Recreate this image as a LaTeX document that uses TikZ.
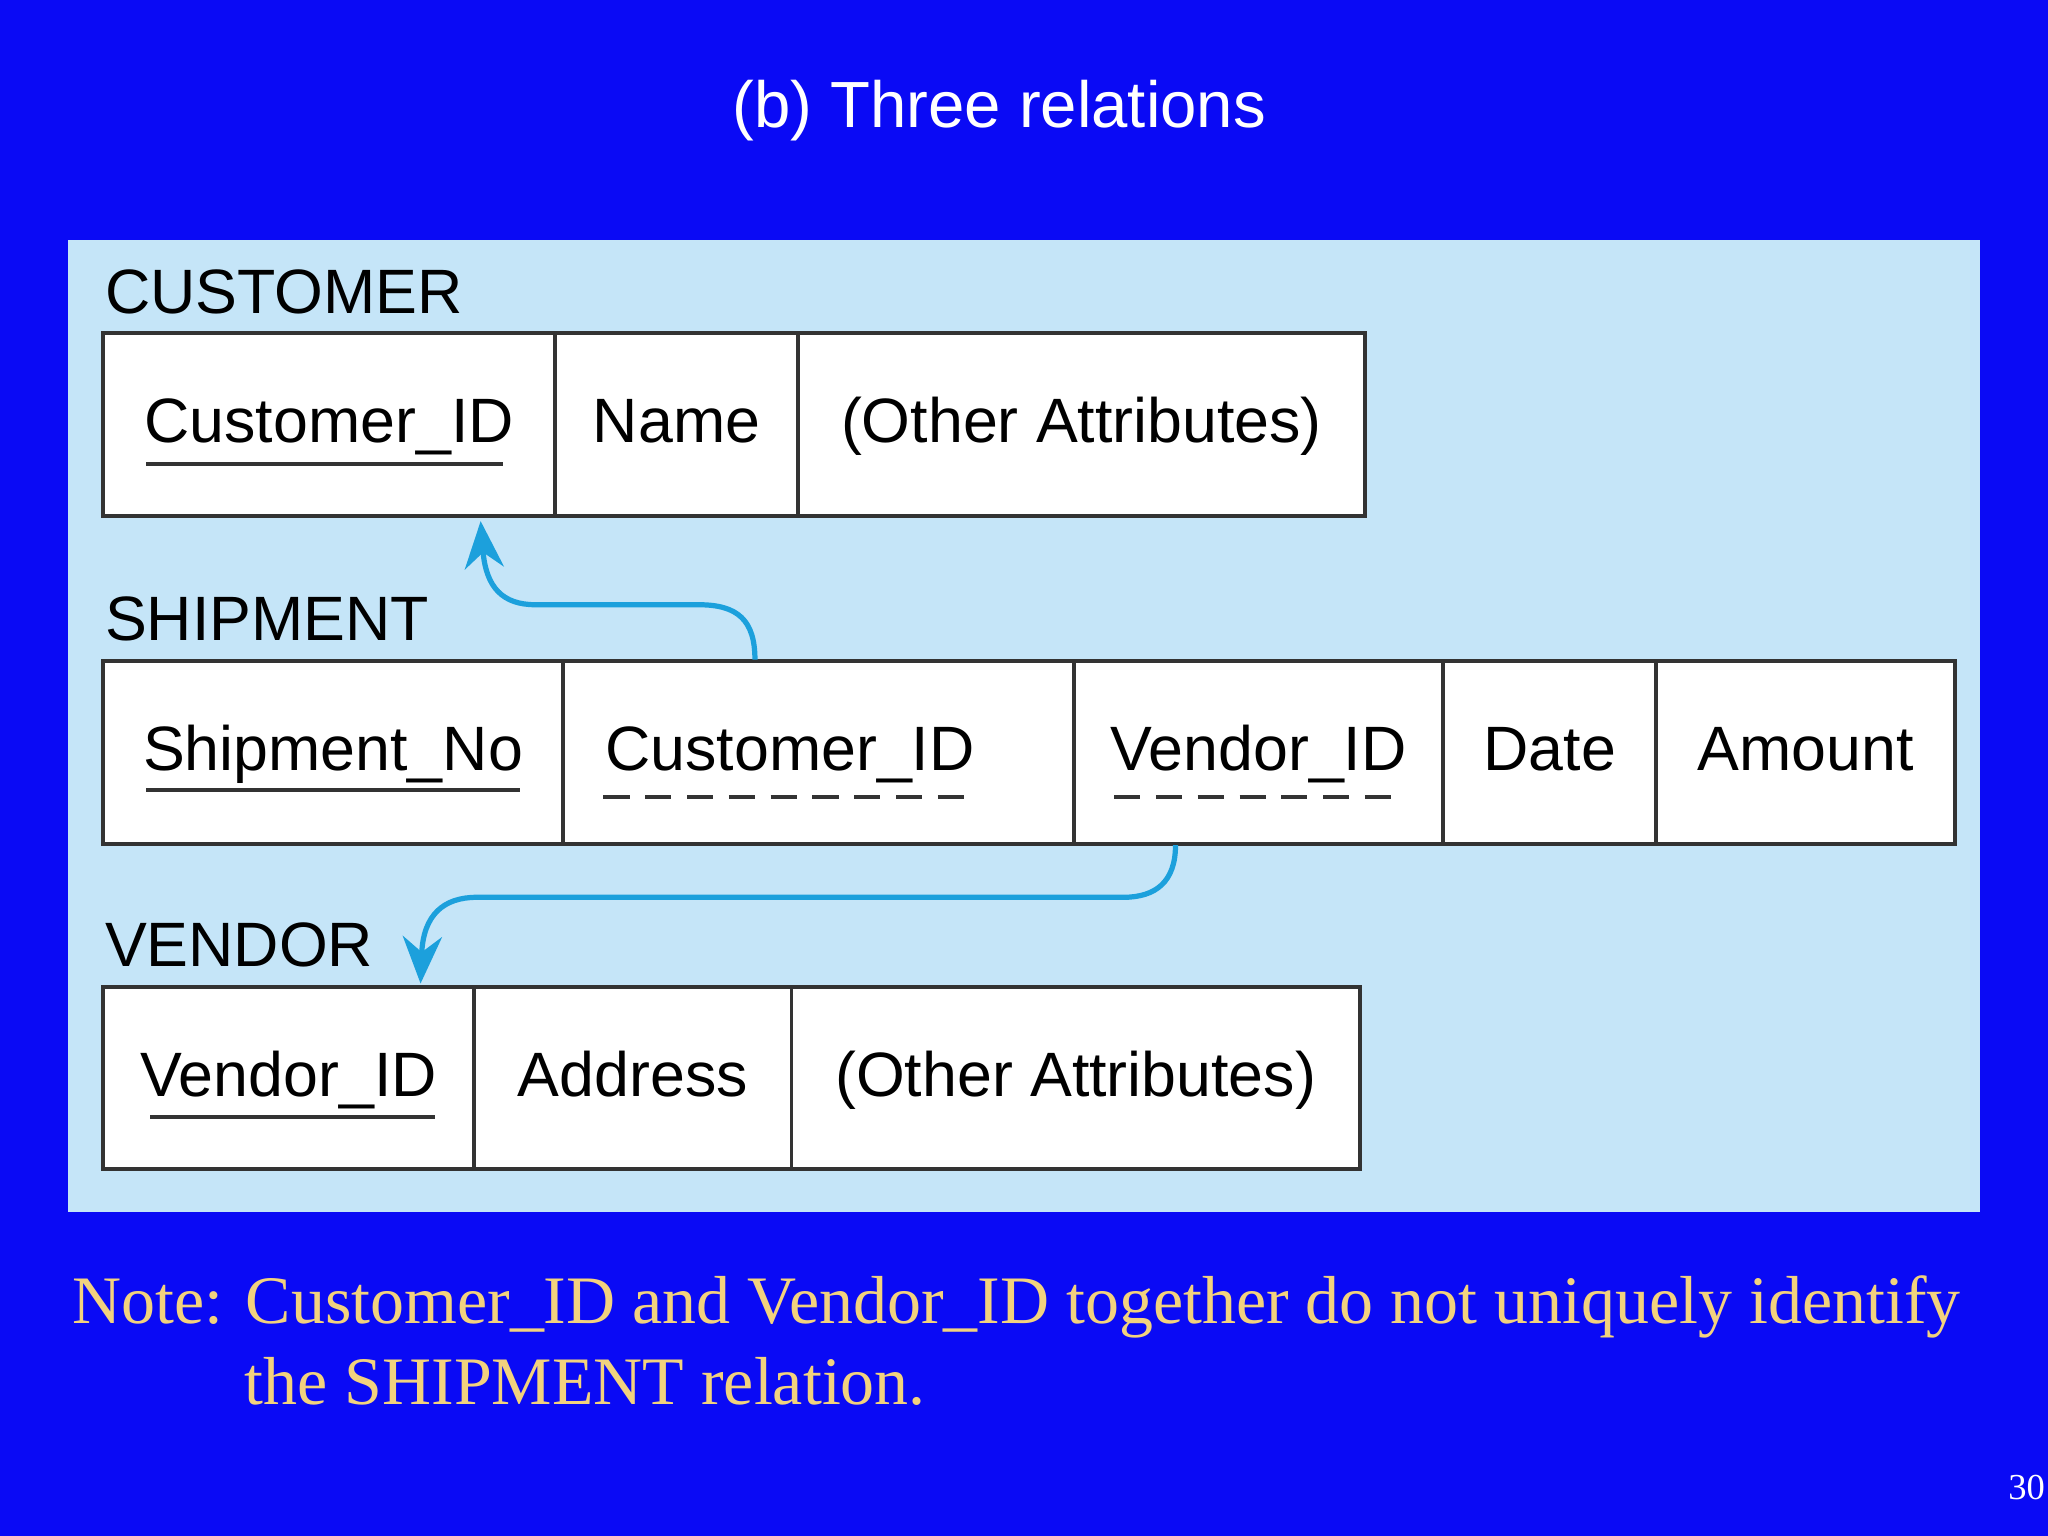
\documentclass[tikz,border=0pt]{standalone}
\usepackage{fontspec}
\setmainfont{Liberation Sans}
\newfontfamily\serifnote{Liberation Serif}
\usetikzlibrary{arrows.meta}
\definecolor{bgblue}{HTML}{0A0AF5}
\definecolor{panel}{HTML}{C5E5F8}
\definecolor{fk}{HTML}{1CA0DC}
\definecolor{gold}{HTML}{F2D27E}
\tikzset{x=0.5pt,y=-0.5pt,
 cell/.style={draw=black!80,line width=1.5pt,fill=white,inner sep=0pt,text height=17pt,text depth=3pt,font=\fontsize{24}{28}\selectfont},
 tlabel/.style={anchor=base west,inner sep=0pt,font=\fontsize{24}{28}\selectfont},
 fkarrow/.style={draw=fk,line width=2pt,-{Stealth[length=18pt,width=15pt,inset=6pt]}},
 ul/.style={line width=1.5pt,black!80},
 dul/.style={line width=1.5pt,black!80,dash pattern=on 10pt off 6pt}}
\newcommand{\cellat}[6]{\node[cell,minimum width={(#4-#3)*0.5pt},minimum height={(#6-#5)*0.5pt}] (#1) at ({(#3+#4)/2},{(#5+#6)/2}) {#2};}
\begin{document}
\begin{tikzpicture}
\fill[bgblue] (0,0) rectangle (1568,1176);
\useasboundingbox (0,0) rectangle (1568,1176);
\node[font=\fontsize{25}{30}\selectfont,text=white] (title) at (765,85) {(b) Three relations};
\fill[panel] (52,184) rectangle (1516,928);
% CUSTOMER
\node[tlabel] (lc) at (80,240) {CUSTOMER};
\cellat{c1}{Customer\_ID}{79}{425}{255}{395}
\cellat{c2}{Name}{425}{611}{255}{395}
\cellat{c3}{(Other Attributes)}{611}{1045}{255}{395}
\draw[ul] (112,355) -- (385,355);
% SHIPMENT
\node[tlabel] (ls) at (80,490) {SHIPMENT};
\cellat{s1}{Shipment\_No}{79}{431}{506}{646}
\cellat{s2}{}{431}{822}{506}{646}
\node[cell,draw=none,fill=none,anchor=west] (s2t) at (462,576) {Customer\_ID};
\cellat{s3}{Vendor\_ID}{822}{1105}{506}{646}
\cellat{s4}{Date}{1105}{1268}{506}{646}
\cellat{s5}{Amount}{1268}{1497}{506}{646}
\draw[ul] (112,605) -- (398,605);
\draw[dul] (462,610) -- (748,610);
\draw[dul] (853,610) -- (1075,610);
% VENDOR
\node[tlabel] (lv) at (80,740) {VENDOR};
\cellat{v1}{Vendor\_ID}{79}{363}{756}{895}
\cellat{v2}{Address}{363}{606}{756}{895}
\cellat{v3}{(Other Attributes)}{606}{1041}{756}{895}
\draw[ul] (115,855) -- (333,855);
% arrows
\coordinate (a1) at (578,505);
\coordinate (a2) at (368,399);
\draw[fkarrow] (a1) .. controls (578,475) and (565,463) .. (535,463) -- (410,463) .. controls (385,463) and (372,450) .. (a2);
\coordinate (b1) at (900,647);
\coordinate (b2) at (322,753);
\draw[fkarrow] (b1) .. controls (900,675) and (885,687) .. (860,687) -- (365,687) .. controls (340,687) and (324,700) .. (b2);
% note
\node[anchor=base west,inner sep=0pt,text=gold,font=\serifnote\fontsize{26}{30}\selectfont] (n1) at (55,1013) {Note: Customer\_ID and Vendor\_ID together do not uniquely identify};
\node[anchor=base west,inner sep=0pt,text=gold,font=\serifnote\fontsize{26}{30}\selectfont] (n2) at (187,1075) {the SHIPMENT relation.};
\node[anchor=base east,inner sep=0pt,text=white,font=\serifnote\fontsize{14}{16}\selectfont] (pg) at (1566,1148) {30};
\end{tikzpicture}
\end{document}
